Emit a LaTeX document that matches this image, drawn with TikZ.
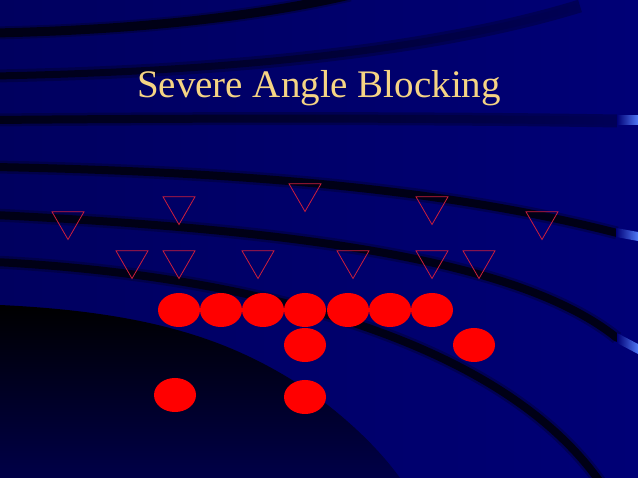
\documentclass[tikz,border=0pt]{standalone}
\usepackage{fontspec}
\setmainfont{Liberation Serif}
\usetikzlibrary{shapes.geometric,fadings}

\definecolor{navyleft}{RGB}{0,0,95}
\definecolor{navyright}{RGB}{0,0,118}
\definecolor{swooshcol}{RGB}{0,0,22}
\definecolor{hilite}{RGB}{80,120,245}
\definecolor{titlegold}{RGB}{245,212,132}
\definecolor{dred}{RGB}{205,30,60}

\tikzfading[name=lateeast, left color=transparent!0,
    middle color=transparent!0, right color=transparent!100]

\begin{document}
\begin{tikzpicture}[x=1pt, y=-1pt]
        \tikzstyle{swoosh}=[
            draw=swooshcol, line width=8pt, line cap=round,
            preaction={draw=swooshcol, line width=13pt, opacity=0.3}
        ]
        \tikzstyle{defender}=[
            regular polygon, regular polygon sides=3, shape border rotate=180,
            draw=dred, line width=0.8pt, minimum size=37pt, inner sep=0pt
        ]
        \tikzstyle{player}=[
            ellipse, fill=red, minimum width=42pt, minimum height=34pt, inner sep=0pt
        ]
        \tikzstyle{slidetitle}=[
            text=titlegold, font=\fontsize{39}{44}\selectfont, anchor=base
        ]

        \useasboundingbox (0,0) rectangle (638,478);

        % Background
        \shade[left color=navyleft, right color=navyright] (0,0) rectangle (638,478);
        \shade[top color=black, bottom color={rgb,255:red,0;green,0;blue,72}]
            (0,305) .. controls (150,312) and (230,340) .. (300,385)
            .. controls (345,415) and (380,450) .. (400,478) -- (0,478) -- cycle;

        % The swooshes
        \draw[swoosh, line width=9pt] (-5,33) .. controls (130,30) and (250,18) .. (350,-5);
        \draw[swoosh, line width=7pt, path fading=lateeast]
            (-5,76) .. controls (200,72) and (420,55) .. (580,6);
        \draw[swoosh, line width=8pt, path fading=lateeast]
            (-5,120) .. controls (200,118) and (450,118) .. (617,121);
        \draw[swoosh] (-5,167) .. controls (250,172) and (450,190) .. (617,233);
        \draw[swoosh] (-5,215) .. controls (300,230) and (520,260) .. (617,338);
        \draw[swoosh] (-5,262) .. controls (250,275) and (500,340) .. (600,482);

        % Highlights on the right edge
        \shade[left color=navyright, right color=hilite]
            (617,116) -- (638,116) -- (638,125) -- (617,125) -- cycle;
        \shade[left color=navyright, right color=hilite]
            (616,228) -- (638,232) -- (638,241) -- (616,237) -- cycle;
        \shade[left color=navyright, right color=hilite]
            (617,333) -- (638,344) -- (638,354) -- (617,343) -- cycle;

        % Title
        \node[slidetitle] (title) at (319,98) {Severe Angle Blocking};

        % Draw the deep defenders
        \foreach \x / \y [count=\i] in {68/221, 179/206, 305/193, 432/206, 542/221}
            \node[defender] (Deep-\i) at (\x,\y) {};

        % Draw the front defenders
        \foreach \x [count=\i] in {132,179,258,353,432,479}
            \node[defender] (Front-\i) at (\x,260) {};

        % Draw the offensive line
        \foreach \x [count=\i] in {179,221,263,305,348,390,432}
            \node[player] (Line-\i) at (\x,310) {};

        % Draw the backs
        \node[player] (QB) at (305,345) {};
        \node[player] (Wing) at (474,345) {};
        \node[player] (HB) at (175,395) {};
        \node[player] (FB) at (305,397) {};
    \end{tikzpicture}
\end{document}
